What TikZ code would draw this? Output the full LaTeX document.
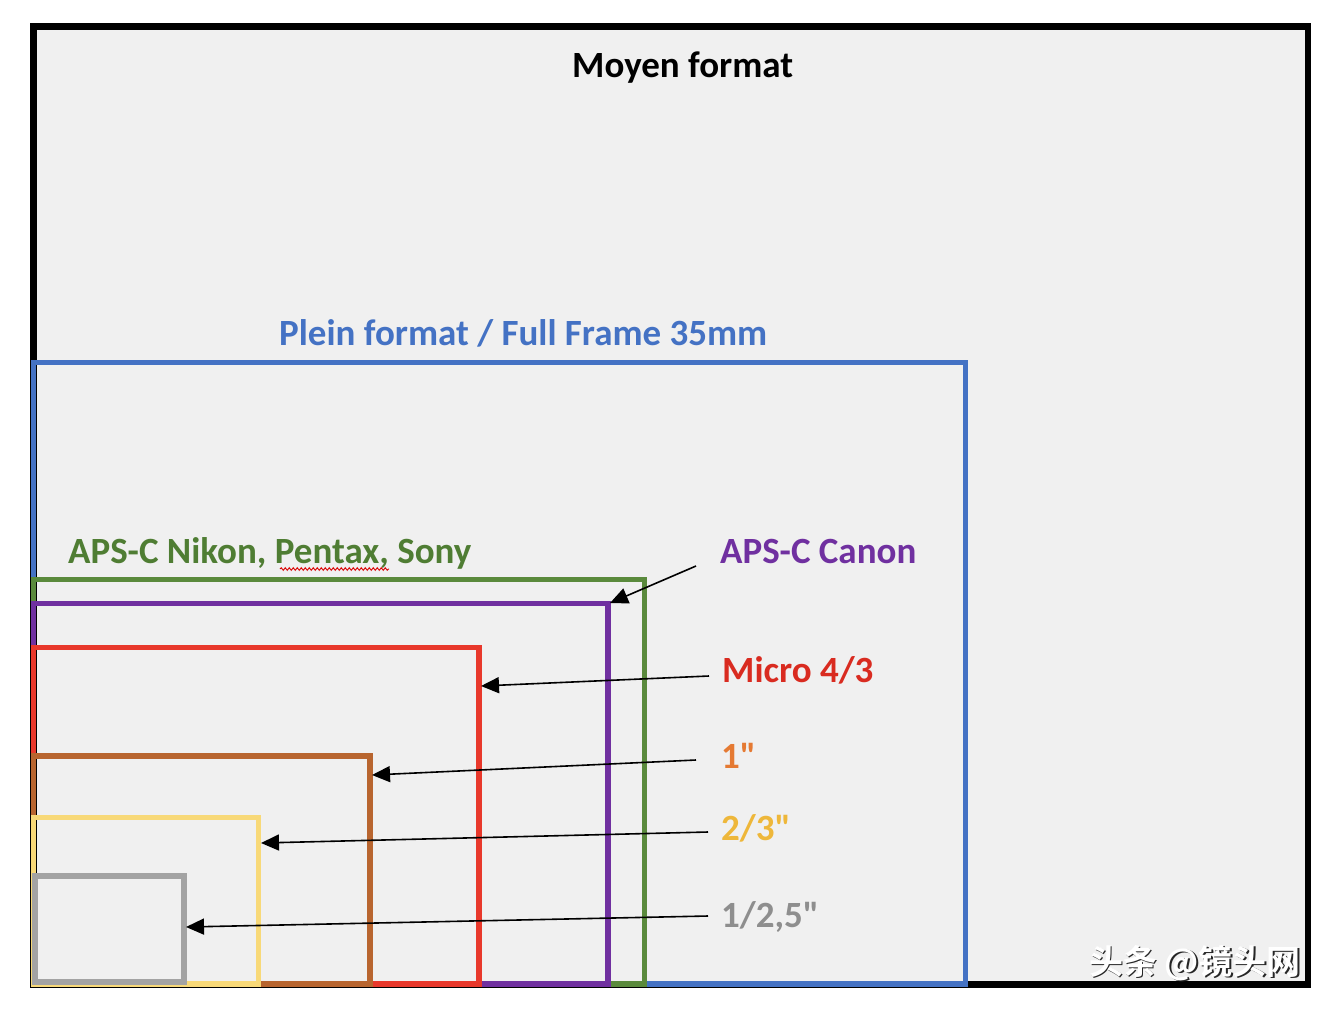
\documentclass[tikz,border=0pt]{standalone}
\usepackage{fontspec}
\setmainfont{Carlito}[Ligatures=TeXOff]
\newfontfamily\cjkfont{Noto Sans CJK SC Bold}
\usetikzlibrary{arrows.meta,decorations.pathmorphing}
\definecolor{bgray}{HTML}{F0F0F0}
\definecolor{fblue}{HTML}{4472C4}
\definecolor{fgreen}{HTML}{5A8A3C}
\definecolor{tgreen}{HTML}{4F7D33}
\definecolor{fpurple}{HTML}{7030A0}
\definecolor{fred}{HTML}{E8382B}
\definecolor{tred}{HTML}{D92B20}
\definecolor{fbrown}{HTML}{B8652F}
\definecolor{torange}{HTML}{E57A33}
\definecolor{fyellow}{HTML}{F8D978}
\definecolor{tyellow}{HTML}{EEB73A}
\definecolor{fgrey}{HTML}{A3A3A3}
\definecolor{tgrey}{HTML}{8E8E8E}
\tikzset{
  frame/.style={line width=5.5pt, line join=miter},
  lbl/.style={anchor=base west, inner sep=0pt, font=\bfseries\fontsize{37}{44}\selectfont},
  ptr/.style={line width=1.6pt, -{Triangle[length=18pt,width=16pt]}},
  wmark/.style={inner sep=0pt, font=\cjkfont\fontsize{34}{40}\selectfont},
}
\begin{document}
\begin{tikzpicture}[x=1pt,y=-1pt]
\useasboundingbox (0,0) rectangle (1330,1010);
\fill[white] (0,0) rectangle (1330,1010);
\fill[bgray] (33.5,26.5) rectangle (1308,984.5);
% outer frame
\draw[frame, line width=6.5pt, black] (33.5,984.5) -- (33.5,26.5) -- (1308,26.5) -- (1308,984.5) -- cycle;
% sensor rectangles
\draw[frame, fblue]   (33.5,362.5) rectangle (965.5,984);
\draw[frame, fgreen]  (33.5,579.5) rectangle (644.5,984);
\draw[frame, fpurple] (33.5,603.5) rectangle (608,984);
\draw[frame, fred]    (33.5,647.5) rectangle (479,984);
\draw[frame, fbrown]  (33.5,756)   rectangle (370,984);
\draw[frame, fyellow] (33.5,817.5) rectangle (258.5,984);
\draw[frame, fgrey, line width=6pt] (34.5,875.5) rectangle (183.5,982);
% arrow end points on the rectangles
\coordinate (tCanon) at (610,603);
\coordinate (tMicro) at (481,686);
\coordinate (tOne)   at (372,775);
\coordinate (tTwo)   at (261,843);
\coordinate (tHalf)  at (186,927);
% arrow start points
\coordinate (sCanon) at (696,566);
\coordinate (sMicro) at (709,676);
\coordinate (sOne)   at (696,760);
\coordinate (sTwo)   at (708,832);
\coordinate (sHalf)  at (708,916);
% labels
\node[lbl, black]   (moyen) at (572,77)  {Moyen format};
\node[lbl, fblue]   (plein) at (279,345) {Plein format / Full Frame 35mm};
\node[lbl, tgreen]  (nikon) at (68,563)  {APS-C Nikon, Pentax, Sony};
\node[lbl, fpurple] (canon) at (720,563) {APS-C Canon};
\node[lbl, tred]    (micro) at (722,682) {Micro 4/3};
\node[lbl, torange] (one)   at (721,768) {1"};
\node[lbl, tyellow] (two)   at (721,840) {2/3"};
\node[lbl, tgrey]   (half)  at (721,927) {1/2,5"};
% spell-check underline
\draw[red!85!black, line width=0.9pt, decorate, decoration={snake, amplitude=1.3pt, segment length=4pt}] (280,569) -- (389,569);
% arrows
\draw[ptr] (sCanon) -- (tCanon);
\draw[ptr] (sMicro) -- (tMicro);
\draw[ptr] (sOne)   -- (tOne);
\draw[ptr] (sTwo)   -- (tTwo);
\draw[ptr] (sHalf)  -- (tHalf);
% watermark
\node[wmark, black!85] (wmshadow) at (1196.5,964.5) {头条 @镜头网};
\node[wmark, white] (wm) at (1195,963) {头条 @镜头网};
\end{tikzpicture}
\end{document}
